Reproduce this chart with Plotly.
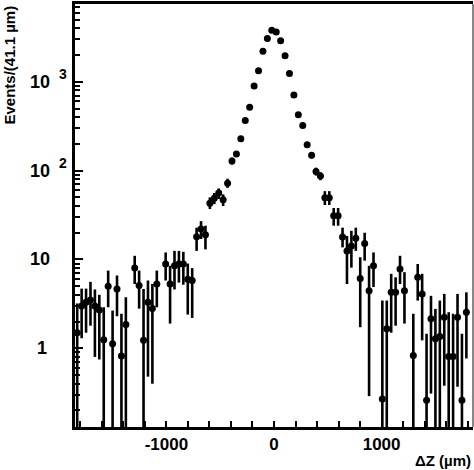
import numpy as np
import plotly.graph_objects as go

# ---- data ----
bin_width = 41.1
x_low_edge = -1849.5
n_bins = 90

counts = [1.5, 3.0, 3.3, 3.5, 3.0, 2.7, 1.25, 5.0, 1.13, 4.66,
          0.82, 1.85, None, 8.0, 5.1, 1.23, 3.3, 2.8, 5.3, None,
          8.9, 5.3, 8.5, 8.9, 8.9, 6.0, 5.8, 18, 22, 19,
          43, 49, 56, 47, 72, 128, 154, 229, 367, 517,
          898, 1330, 2210, 3060, 3800, 3640, 2890, 1960, 1240, 711,
          425, 322, 196, 149, 98, 87, 49.5, 49.5, 31, 31,
          17.9, 12.5, 14.2, 17.3, 6.1, 15.1, 4.46, 8.5, None, 0.27,
          1.66, 4.27, 4.27, 7.8, 4.46, None, 0.83, 6.3, 4.1, 0.26,
          2.15, 1.28, 1.36, 2.24, 0.81, 0.81, 2.24, 0.26, 2.55, None]

err_top = [3.2, 4.7, 4.7, 5.6, 4.6, 4.0, 2.9, 7.5, 2.66, 6.6,
           2.45, 3.76, None, 11.0, 7.5, 4.66, 5.8, 5.3, 7.5, None,
           12.0, 8.5, 12.5, 12.5, 12.2, 9.0, 8.0, 22.8, 27, 24,
           50, 56, 63, 54, 81, 140, 166, 244, 386, 540,
           928, 1366, 2257, 3115, 3862, 3700, 2944, 2004, 1275, 738,
           446, 340, 210, 161, 108, 96, 58.8, 58.8, 38, 38,
           22.8, 18.4, 21, 22.8, 10.6, 20, 8.5, 12.0, None, 3.45,
           3.45, 6.9, 6.3, 11, 7.2, None, 2.45, 8.9, 6.9, 1.46,
           3.9, 2.78, 3.45, 4.1, 2.55, 2.45, 4.1, 1.46, 4.27, None]

err_bottom = [0.01, 1.3, 1.5, 1.8, 0.8, 0.75, 0.01, 2.9, 0.01, 2.3,
              0.01, 0.01, None, 5.3, 2.8, 0.01, 0.48, 0.4, 2.9, None,
              5.8, 1.9, 4.6, 5.5, 5.2, 2.4, 2.2, 12.5, 17, 13,
              37, 42, 48, 40, 64, 117, 142, 214, 348, 494,
              868, 1294, 2163, 3005, 3738, 3580, 2836, 1916, 1205, 684,
              404, 304, 182, 137, 88, 78, 41, 41, 24, 24,
              13.7, 5.3, 8.1, 12.5, 1.73, 9.7, 0.29, 4.9, None, 0.01,
              0.01, 1.5, 1.8, 5.3, 1.9, None, 0.01, 3.45, 1.23, 0.01,
              0.31, 0.01, 0.01, 0.38, 0.01, 0.01, 0.37, 0.01, 0.77, None]

x_tick_vals = [-1000, 0, 1000]
x_tick_text = ["-1000", "0", "1000"]
y_tick_vals = [1, 10, 100, 1000]
y_tick_text = ["1", "10", "10", "10"]
y_tick_sup = ["", "", "2", "3"]

# ---- build ----
centers = x_low_edge + bin_width * (np.arange(n_bins) + 0.5)
xs, ys, ep, em = [], [], [], []
for c, v, hi, lo in zip(centers, counts, err_top, err_bottom):
    if v is None:
        continue
    xs.append(c)
    ys.append(v)
    ep.append(hi - v)
    em.append(v - lo)

FONT = "Liberation Sans"

fig = go.Figure()
fig.add_trace(go.Scatter(
    x=xs, y=ys, mode="markers",
    marker=dict(color="black", size=7, symbol="circle"),
    error_y=dict(type="data", symmetric=False, array=ep, arrayminus=em,
                 color="black", thickness=2.6, width=0),
    error_x=dict(type="constant", value=bin_width / 2, color="black",
                 thickness=1.6, width=0),
    showlegend=False,
    cliponaxis=True,
))

minor_y = []
for d in [0.1, 1, 10, 100, 1000]:
    for k in range(2, 10):
        minor_y.append(d * k)

fig.update_layout(
    width=474, height=470,
    margin=dict(l=75, r=1, t=2, b=43),
    paper_bgcolor="white", plot_bgcolor="white",
    font=dict(family=FONT, color="black", size=17, weight="bold"),
    xaxis=dict(
        range=[x_low_edge, x_low_edge + bin_width * n_bins],
        tickmode="array", tickvals=x_tick_vals, ticktext=x_tick_text,
        ticks="inside", ticklen=6, tickwidth=1.5, tickcolor="black",
        minor=dict(dtick=200, tick0=0, ticks="inside", ticklen=6,
                   tickwidth=1.5, tickcolor="black"),
        showgrid=False, zeroline=False,
        showline=True, linecolor="black", linewidth=3, mirror=True,
        tickfont=dict(size=17, family=FONT, weight="bold"),
    ),
    yaxis=dict(
        type="log", range=[-0.885, 3.875],
        tickmode="array", tickvals=y_tick_vals, ticktext=[""] * 4,
        ticks="inside", ticklen=8, tickwidth=1.5, tickcolor="black",
        minor=dict(tickmode="array", tickvals=minor_y, ticks="inside",
                   ticklen=5, tickwidth=1.5, tickcolor="black"),
        showgrid=False, zeroline=False,
        showline=True, linecolor="black", linewidth=3, mirror=False,
    ),
)

# right frame edge (grey in the reference)
fig.add_shape(type="line", xref="paper", yref="paper", x0=1, x1=1, y0=0, y1=1,
              line=dict(color="#888888", width=2))

# y tick labels ("10" base aligned, exponent to the right)
for v, t, s in zip(y_tick_vals, y_tick_text, y_tick_sup):
    base_right = 52 if t == "10" else 49
    fig.add_annotation(xref="paper", yref="y", x=(base_right - 75) / 398.0,
                       y=np.log10(v), text=t, showarrow=False,
                       xanchor="right", yanchor="middle",
                       font=dict(size=18, family=FONT, weight="bold"))
    if s:
        fig.add_annotation(xref="paper", yref="y", x=(57 - 75) / 398.0,
                           y=np.log10(v), yshift=8, text=s, showarrow=False,
                           xanchor="left", yanchor="middle",
                           font=dict(size=14, family=FONT, weight="bold"))

# axis titles
fig.add_annotation(xref="paper", yref="paper", x=(9 - 75) / 398.0, y=1.0,
                   text="Events/(41.1 \u00b5m)", textangle=-90, showarrow=False,
                   xanchor="center", yanchor="top",
                   font=dict(size=15, family=FONT, weight="bold"))
fig.add_annotation(xref="paper", yref="paper", x=1.0, y=-(461 - 427) / 425.0,
                   text="\u0394Z (\u00b5m)", showarrow=False,
                   xanchor="right", yanchor="middle",
                   font=dict(size=15, family=FONT, weight="bold"))

fig.write_html(
    "out.html",
    config={"displayModeBar": False},
    post_script="document.body.style.margin='0';"
                "document.body.style.overflow='hidden';",
)
